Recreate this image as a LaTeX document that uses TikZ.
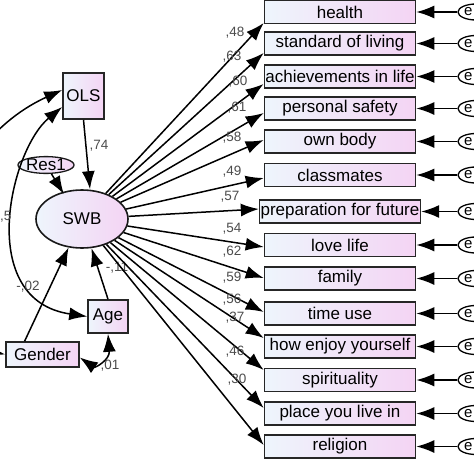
\documentclass[tikz,border=0pt]{standalone}
\usepackage{fontspec}
\setmainfont{Liberation Sans}
\usetikzlibrary{arrows.meta,calc,shapes.geometric}
\definecolor{boxL}{HTML}{EEF5FC}
\definecolor{boxR}{HTML}{F4D4F4}
\begin{document}
\begin{tikzpicture}[x=1pt,y=-1pt,
  obs/.style={draw=black!85, line width=1.6pt, left color=boxL, right color=boxR,
    inner sep=1pt, font=\fontsize{17}{17}\selectfont},
  item/.style={obs, minimum width=151pt, minimum height=23pt},
  lat/.style={ellipse, draw=black!90, line width=1.6pt, left color=boxL, right color=boxR,
    inner sep=0pt, font=\fontsize{17}{17}\selectfont},
  err/.style={ellipse, draw=black, line width=1.3pt, fill=white, minimum width=36pt,
    minimum height=16pt, inner sep=0pt, font=\fontsize{15}{15}\selectfont},
  arr/.style={line width=1.5pt, -{Latex[length=18pt,width=13pt]}},
  dbl/.style={line width=1.5pt, {Latex[length=18pt,width=13pt]}-{Latex[length=18pt,width=13pt]}},
  coef/.style={font=\fontsize{13.5}{13.5}\selectfont, text=black!70, inner sep=0pt}]
\useasboundingbox (0,0) rectangle (474,474);
\clip (0,0) rectangle (474,474);
\fill[white] (0,0) rectangle (474,474);

% left part
\node[obs, minimum width=41pt, minimum height=46pt] (ols) at (83.5,96) {OLS};
\node[obs, minimum width=40pt, minimum height=33pt] (age) at (108,316.5) {Age};
\node[obs, minimum width=73pt, minimum height=25pt] (gender) at (42.5,354.5) {Gender};
\node[lat, minimum width=92pt, minimum height=58pt] (swb) at (82,219) {SWB};
\node[lat, minimum width=48pt, minimum height=15pt, line width=1.3pt] (res) at (46,165) {Res1};

\draw[arr] (ols.south) -- ($(swb.north)+(8,0)$);
\draw[arr] (res) -- ($(swb.north west)!0.45!(swb.north)$);
\draw[arr] (age.north) -- (swb);
\draw[arr] ($(gender.north west)!0.26!(gender.north east)$) -- (swb);
\draw[dbl] ([yshift=-11pt]ols.west) .. controls (10,150) and (-25,300) .. (age.west);
\draw[dbl] (gender.west) .. controls (-100,330) and (-70,150) .. ([yshift=6pt]ols.west);
\draw[dbl] ([yshift=-3pt]gender.east) .. controls (95,368) and (110,360) .. (age.south);

\node[coef] (c74) at (99,146) {,74};
\node[coef] (c11) at (117,268) {-,11};
\node[coef] (c02) at (28,287) {-,02};
\node[coef] (c01) at (110,366) {,01};
\node[coef, anchor=west] (c5) at (0,217) {,5};

% right part
\foreach \i/\y/\t/\d/\lx/\ly/\c in {
  1/12/health/11/235/33/{,48},
  2/43.5/standard of living/9.5/232/57/{,63},
  3/76.5/achievements in life/7.5/238/82/{,60},
  4/108.5/personal safety/4.5/237/108/{,61},
  5/141.5/own body/-1.5/232/138/{,58},
  6/175/classmates/3/232/172/{,49},
  7/211.5/preparation for future/-2.5/230/197/{,57},
  8/245/love life/2/232/229/{,54},
  9/278.5/family/-0.5/232/252/{,62},
  10/313.5/time use/-1.5/232/278/{,59},
  11/346.5/how enjoy yourself/-8.5/232/300/{,56},
  12/380/spirituality/-10/235/318/{,37},
  13/413.5/place you live in/-5.5/235/352/{,46},
  14/446.5/religion/-1.5/237/380/{,30}} {
  \node[item] (b\i) at (340,\y) {\t};
  \node[err] (e\i) at (476,\y) {e\hphantom{11}};
  \draw[arr] (e\i) -- (b\i.east);
  \draw[arr] (swb) -- ($(b\i.west)+(0,\d)$);
  \node[coef] (l\i) at (\lx,\ly) {\c};
}
\end{tikzpicture}
\end{document}
